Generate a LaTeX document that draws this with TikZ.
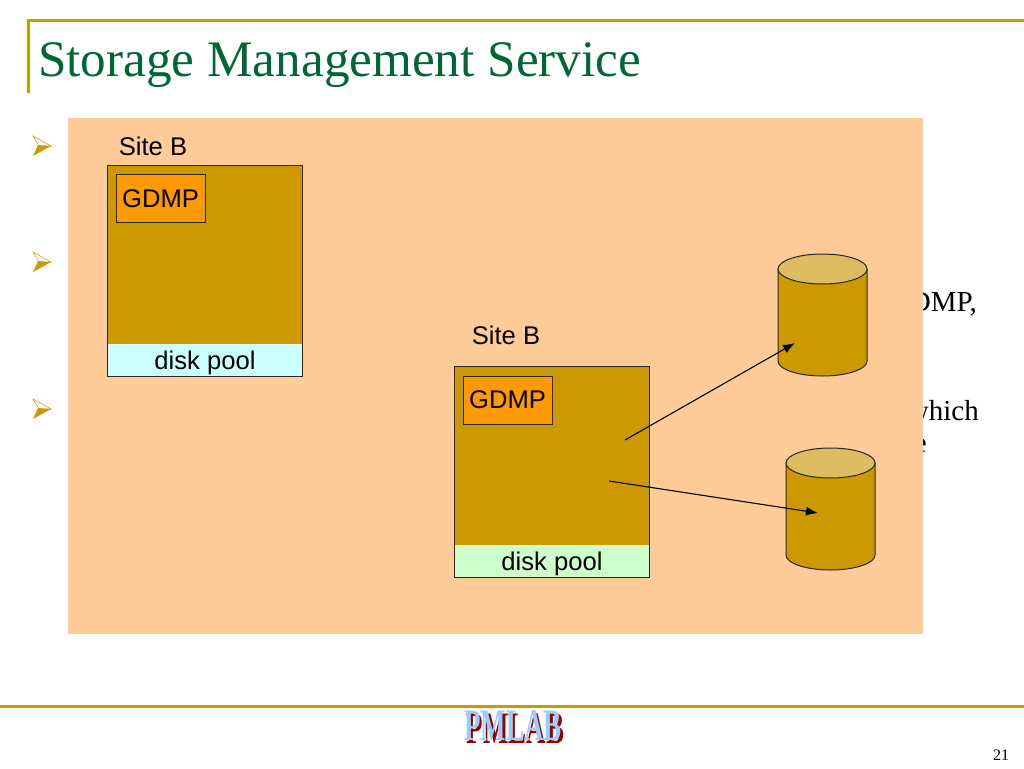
\documentclass[tikz,border=0pt]{standalone}
\usepackage{fontspec}
\setmainfont{Liberation Serif}
\setsansfont{Liberation Sans}
\usetikzlibrary{arrows.meta}
\definecolor{rulegold}{HTML}{CC9900}
\definecolor{titlegreen}{HTML}{006633}
\definecolor{peach}{HTML}{FFCC99}
\definecolor{boxgold}{HTML}{CC9900}
\definecolor{gdmporange}{HTML}{FF9900}
\definecolor{poolcyan}{HTML}{CCFFFF}
\definecolor{poolgreen}{HTML}{CCFFCC}
\definecolor{drumtop}{HTML}{DDBD5F}
\definecolor{logoblue}{HTML}{99CCFF}
\definecolor{logored}{HTML}{990000}
\newcommand\bulletmark[2]{% tip position
  \fill[white,draw=rulegold,line width=0.5pt] (#1-18,#2-10) -- (#1,#2) -- (#1-12,#2) -- cycle;
  \fill[rulegold] (#1-18,#2+10) -- (#1,#2) -- (#1-13,#2-1) -- cycle;
}
\newcommand\diskdrum[2]{% left edge, top of the lid
  \draw[drumline,fill=boxgold] (#1,#2+15) -- (#1,#2+107)
     .. controls (#1,#2+115.3) and (#1+20,#2+122) .. (#1+44.5,#2+122)
     .. controls (#1+69,#2+122) and (#1+89,#2+115.3) .. (#1+89,#2+107) -- (#1+89,#2+15) -- cycle;
  \draw[drumline,fill=drumtop] (#1+44.5,#2+15) ellipse [x radius=44.5pt,y radius=15pt];
}
\tikzset{
    label/.style={font=\sffamily\fontsize{25.6}{28}\selectfont,inner sep=0pt},
    bodytext/.style={font=\fontsize{29}{32}\selectfont,inner sep=0pt,anchor=base east},
    sitebox/.style={fill=boxgold,minimum width=194pt,minimum height=210pt,inner sep=0pt},
    gdmpbox/.style={label,draw=black!85,line width=0.8pt,fill=gdmporange,minimum width=89pt,minimum height=48pt},
    poolbox/.style={label,minimum width=194pt,minimum height=32pt,text height=20pt,text depth=2pt},
    frame/.style={draw=black!85,line width=0.8pt},
    drumline/.style={draw=black!85,line width=1pt},
    link/.style={-{Latex[length=12pt,width=9pt]},line width=1.1pt},
    logo/.style={font=\bfseries\fontsize{45}{45}\selectfont,inner sep=0pt,xscale=0.6,transform shape}
}
\begin{document}
\begin{tikzpicture}[x=1pt,y=-1pt]
  \useasboundingbox (0,0) rectangle (1024,768);

  % slide frame
  \draw[rulegold,line width=3pt] (28,93) -- (28,21) -- (1024,21);
  \draw[rulegold,line width=3pt] (0,706) -- (1024,706);
  \node[anchor=base west,inner sep=0pt,text=titlegreen,font=\fontsize{51.2}{54}\selectfont] (title) at (38,76) {Storage Management Service};
  \node[font=\fontsize{16}{18}\selectfont,inner sep=0pt] (page) at (1001,755) {21};

  \node[logo,text=logored] (logoback) at (515.5,728.5) {PMLAB};
  \node[logo,text=logoblue] (logofront) at (513,726) {PMLAB};

  \bulletmark{51}{146}
  \bulletmark{51}{262}
  \bulletmark{51}{409}

  % text that the panel covers
  \node[bodytext] (lineA) at (977,311) {GDMP,};
  \node[bodytext] (lineB) at (979,420) {which};
  \node[bodytext] (lineC) at (927,452) {e};

  \fill[peach] (68,118) rectangle (923,634);

  % first site
  \node[label] (siteA) at (153,146) {Site B};
  \node[sitebox] (bodyA) at (205,271) {};
  \node[poolbox,fill=poolcyan] (poolA) at (205,360) {disk pool};
  \draw[frame] (bodyA.south west) rectangle (bodyA.north east);
  \node[gdmpbox] (gdmpA) at (160.5,198.5) {GDMP};

  % second site
  \node[label] (siteB) at (506,335) {Site B};
  \node[sitebox] (bodyB) at (552,472) {};
  \node[poolbox,fill=poolgreen] (poolB) at (552,561) {disk pool};
  \draw[frame] (bodyB.south west) rectangle (bodyB.north east);
  \node[gdmpbox] (gdmpB) at (507.5,400) {GDMP};

  \diskdrum{778}{254}
  \diskdrum{786}{448}

  \coordinate (outA) at (625,440);
  \coordinate (inA) at (795,343);
  \coordinate (outB) at (609,481);
  \coordinate (inB) at (818,513);
  \draw[link] (outA) -- (inA);
  \draw[link] (outB) -- (inB);

\end{tikzpicture}
\end{document}
